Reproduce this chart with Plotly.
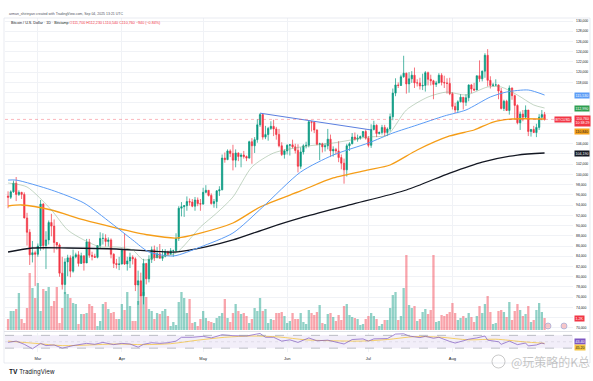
import pandas as pd
import plotly.graph_objects as go

# ---------------- data ----------------
start_date = "2025-02-18"
first_open = 95770

closes = [
    95540, 96600, 98300, 96100, 96500, 96100, 91500, 88700, 84300, 84700, 84400,
    86000, 94200, 86100, 87200, 90600, 89900, 86700, 86200, 80700, 78500,
    82900, 83700, 81100, 83900, 84300, 82600, 84100, 82700, 86800, 84200,
    84000, 83800, 86100, 87500, 87500, 86900, 87200, 84400, 82600, 82400,
    82500, 85200, 82500, 83100, 83800, 83500, 78400, 79200, 76300, 82600,
    79600, 83400, 85300, 83700, 84500, 83600, 84000, 84900, 84400, 85100,
    85100, 87500, 93400, 93700, 93900, 94700, 94600, 93800, 95000, 94300,
    94200, 96500, 96900, 95900, 94300, 94700, 96800, 97000, 103200, 102900,
    104600, 104100, 102800, 104200, 103500, 103800, 103500, 103200, 106400, 105600,
    106800, 109700, 111700, 107300, 107800, 109000, 109400, 108900, 107800, 105600,
    103900, 104600, 105700, 105800, 105400, 104700, 101600, 104400, 105600, 105700,
    110300, 110200, 108700, 105900, 106000, 105400, 105600, 106900, 104600, 104900,
    104600, 103300, 102200, 100900, 105600, 106000, 107300, 106900, 107100, 107400,
    108400, 107100, 105700, 108800, 109600, 108000, 108200, 109200, 108200, 108900,
    111300, 115900, 117500, 117400, 119100, 119800, 117700, 118700, 119400, 117900,
    117900, 117300, 117400, 119900, 118600, 118300, 117600, 117900, 119400, 118000,
    117900, 117800, 115800, 113300, 112600, 114200, 115100, 114100, 115000, 117500,
    116700, 116500, 119300, 118700, 120200, 123300, 118400, 117400, 117500, 117500,
    116300, 112900, 114300, 112500, 116900, 115400, 113500, 110100, 111800, 111200,
    112600, 108400, 108800, 108200, 109200, 111200, 111700, 110760,
]
highs = [
    96700, 96900, 98800, 99500, 96900, 96600, 96500, 92500, 89300, 87000, 85100,
    86500, 95000, 94400, 88900, 91000, 92300, 91200, 86800, 86500, 83900,
    83600, 84300, 84200, 85300, 84700, 85000, 84700, 84100, 87400, 87400,
    84900, 84500, 86100, 88700, 88500, 88300, 87700, 87500, 84600, 83500,
    83900, 85500, 88500, 83900, 84700, 84200, 83800, 81200, 80800, 83500,
    82700, 84200, 85900, 86100, 85800, 86400, 85400, 85400, 85100, 85600,
    85300, 88500, 93800, 94600, 94000, 95700, 95300, 95200, 95600, 95500,
    95200, 97400, 97900, 96900, 96300, 95200, 96900, 97700, 103900, 104300,
    104900, 104900, 105800, 104900, 104300, 104200, 104600, 103700, 106600, 107100,
    107300, 110800, 111980, 111800, 109500, 109300, 110400, 110700, 109300, 108900,
    106300, 104900, 105900, 105900, 106800, 106000, 105900, 105300, 105900, 106400,
    110600, 110400, 110400, 108800, 106200, 106200, 106100, 108900, 107800, 105500,
    105200, 106500, 103900, 103100, 106000, 106300, 108100, 108200, 107800, 107600,
    108500, 108800, 107500, 109800, 110500, 109800, 108400, 109700, 109700, 109200,
    111900, 116800, 118800, 118000, 119500, 123200, 119900, 120000, 120200, 120900,
    118600, 118900, 119700, 120200, 120100, 119500, 118500, 118300, 119800, 119800,
    119300, 118800, 118900, 116100, 114000, 114500, 115700, 115100, 115700, 117600,
    117700, 117900, 119300, 122300, 120300, 123700, 124500, 119200, 117900, 118600,
    117600, 116900, 114600, 114600, 117400, 117000, 115600, 113700, 112300, 112600,
    113500, 112600, 108900, 109500, 109900, 111800, 112600, 112230,
]
lows = [
    93400, 95200, 96400, 94800, 95800, 95200, 91400, 86100, 82300, 82800, 78200,
    83900, 85100, 85300, 81500, 86300, 87900, 84700, 85300, 80000, 77500,
    76600, 80100, 79900, 80800, 83600, 82000, 82500, 81200, 82700, 83700,
    83200, 83700, 83600, 85600, 86300, 85900, 85900, 83600, 81700, 81600,
    81300, 82400, 82300, 81200, 81700, 82400, 77200, 74500, 76200, 74600,
    78500, 78900, 82700, 83100, 83700, 83600, 83100, 83800, 84100, 84400,
    83900, 85100, 87000, 91800, 91700, 92900, 93900, 93600, 92900, 93800,
    92900, 94100, 96300, 95700, 94100, 93500, 93400, 95800, 96900, 102300,
    102800, 103400, 100800, 101400, 102600, 101400, 103100, 102600, 103100, 102100,
    104200, 106200, 109300, 106800, 106900, 106600, 108700, 107500, 106800, 105300,
    103600, 103100, 103900, 103700, 105100, 104100, 100400, 101100, 103900, 105100,
    105300, 108400, 108100, 105700, 102800, 104300, 104500, 104900, 103400, 103500,
    103900, 102400, 101000, 98200, 99600, 104600, 105900, 106600, 106400, 106800,
    107200, 106800, 105300, 105200, 108600, 107300, 107800, 107800, 107500, 107500,
    108400, 110600, 115300, 116900, 117300, 118900, 115800, 116000, 117900, 116900,
    117200, 116600, 116500, 116200, 117400, 117400, 114700, 117100, 117800, 117400,
    116900, 115800, 115500, 112700, 112000, 112000, 114100, 112700, 113400, 114300,
    115900, 116300, 116500, 118100, 118200, 118900, 117200, 116800, 117200, 117300,
    114700, 112700, 112400, 112400, 111700, 114600, 110700, 109800, 108700, 110400,
    110900, 107500, 107400, 108100, 107300, 108700, 110600, 110540,
]
volume = [
    1100, 1900, 1900, 2100, 3700, 1100, 700, 2200, 5700, 4200, 3200,
    4700, 1900, 4100, 3900, 4300, 2400, 2900, 4300, 700, 2200,
    3800, 3600, 3200, 2700, 2600, 600, 1600, 1600, 1700, 2600,
    2400, 1700, 400, 900, 2600, 2800, 2100, 1700, 1800, 1100,
    1100, 2600, 2000, 3800, 2400, 900, 900, 2900, 3500, 3800,
    3300, 2100, 1900, 1100, 1700, 1600, 1900, 2100, 1400, 400,
    800, 500, 2800, 3800, 3200, 1700, 3100, 700, 800, 400,
    1100, 1900, 1200, 900, 800, 700, 1200, 1400, 1700, 3100,
    1200, 800, 1700, 2600, 1900, 1600, 1700, 1400, 700, 1100,
    2200, 1900, 3200, 1900, 2100, 700, 1100, 1000, 1700, 1700,
    1800, 1400, 700, 900, 1700, 1100, 1100, 1700, 800, 600,
    2000, 1700, 1500, 1800, 2500, 700, 600, 1600, 1700, 1300,
    900, 1500, 1000, 2400, 2600, 1500, 1300, 1200, 1100, 500,
    600, 1100, 1400, 1700, 1400, 1100, 400, 600, 1000, 1000,
    2200, 3500, 3800, 1000, 1400, 4200, 7500, 2500, 2200, 2400,
    900, 1100, 1800, 2100, 1600, 2000, 7500, 800, 900, 1500,
    1400, 1600, 1800, 2700, 1700, 1000, 1200, 1400, 1200, 1700,
    1300, 800, 1400, 2400, 1700, 2600, 3400, 1800, 600, 700,
    1900, 2000, 1800, 1300, 2800, 1000, 1900, 2600, 2000, 1400,
    1600, 2400, 800, 1000, 2000, 2700, 1800, 1200,
]

ma20_dates = ["2025-02-18", "2025-02-25", "2025-03-06", "2025-03-12", "2025-03-18", "2025-03-24",
              "2025-03-30", "2025-04-05", "2025-04-09", "2025-04-14", "2025-04-21", "2025-04-30",
              "2025-05-06", "2025-05-12", "2025-05-19", "2025-05-27", "2025-06-06", "2025-06-18",
              "2025-07-01", "2025-07-08", "2025-07-15", "2025-07-23", "2025-07-30", "2025-08-06",
              "2025-08-14", "2025-08-19", "2025-08-25", "2025-08-31", "2025-09-04"]
ma20_vals = [98330, 97550, 93050, 89140, 87190, 85820, 85820, 85230, 83280, 83860, 84640, 89730,
             92460, 95590, 101460, 104190, 105370, 106150, 107320, 107710, 112600, 115140, 116120,
             115530, 117100, 117100, 115530, 113580, 112990]

ma50_dates = ["2025-02-18", "2025-02-21", "2025-03-06", "2025-03-18", "2025-03-28", "2025-04-05",
              "2025-04-11", "2025-04-20", "2025-04-30", "2025-05-12", "2025-05-23", "2025-06-06",
              "2025-06-18", "2025-07-01", "2025-07-10", "2025-07-19", "2025-07-29", "2025-08-06",
              "2025-08-15", "2025-08-21", "2025-08-29", "2025-09-04"]
ma50_vals = [98900, 98900, 96960, 94420, 90510, 87190, 84840, 84060, 85820, 88550, 93640, 100480,
             103800, 106150, 108100, 109670, 111430, 112600, 115140, 116120, 116510, 115530]

ma100_dates = ["2025-02-18", "2025-02-23", "2025-03-06", "2025-03-18", "2025-03-30", "2025-04-11",
               "2025-04-21", "2025-04-30", "2025-05-12", "2025-05-22", "2025-06-06", "2025-06-18",
               "2025-07-01", "2025-07-09", "2025-07-19", "2025-07-31", "2025-08-09", "2025-08-16",
               "2025-08-23", "2025-09-04"]
ma100_vals = [93830, 94030, 93050, 91100, 89530, 88160, 87570, 88550, 90510, 93640, 96770, 99310,
              100880, 101850, 104780, 107520, 108690, 110250, 110840, 110840]

ma200_dates = ["2025-02-18", "2025-02-27", "2025-03-12", "2025-03-30", "2025-04-11", "2025-04-21",
               "2025-05-02", "2025-05-12", "2025-05-25", "2025-06-06", "2025-06-24", "2025-07-15",
               "2025-07-31", "2025-08-12", "2025-08-25", "2025-09-04"]
ma200_vals = [84840, 85620, 85620, 85430, 85040, 84840, 85820, 87190, 89530, 91490, 94030, 96960,
              100280, 102430, 103800, 104190]

trend_dates = ["2025-05-22", "2025-07-02"]
trend_prices = [111980, 108700]

rsi_dates = ["2025-02-18", "2025-02-21", "2025-02-24", "2025-02-27", "2025-03-02", "2025-03-04",
             "2025-03-07", "2025-03-10", "2025-03-14", "2025-03-19", "2025-03-22", "2025-03-25",
             "2025-03-29", "2025-04-01", "2025-04-04", "2025-04-07", "2025-04-09", "2025-04-12",
             "2025-04-15", "2025-04-18", "2025-04-21", "2025-04-23", "2025-04-27", "2025-05-01",
             "2025-05-04", "2025-05-08", "2025-05-12", "2025-05-17", "2025-05-22", "2025-05-24",
             "2025-05-27", "2025-05-30", "2025-06-02", "2025-06-05", "2025-06-09", "2025-06-12",
             "2025-06-16", "2025-06-19", "2025-06-22", "2025-06-25", "2025-06-29", "2025-07-01",
             "2025-07-03", "2025-07-08", "2025-07-11", "2025-07-14", "2025-07-16", "2025-07-20",
             "2025-07-22", "2025-07-25", "2025-07-27", "2025-07-31", "2025-08-02", "2025-08-05",
             "2025-08-07", "2025-08-10", "2025-08-13", "2025-08-14", "2025-08-18", "2025-08-19",
             "2025-08-22", "2025-08-25", "2025-08-28", "2025-08-29", "2025-09-01", "2025-09-03",
             "2025-09-04"]
rsi_vals = [48, 52, 42, 28, 45, 38, 40, 30, 38, 45, 42, 48, 41, 45, 43, 33, 42, 47, 45, 47, 52, 64,
            64, 67, 62, 72, 69, 68, 76, 64, 64, 52, 56, 48, 62, 53, 55, 49, 43, 57, 59, 52, 59, 60,
            74, 75, 68, 63, 67, 61, 64, 51, 46, 53, 58, 62, 68, 55, 50, 42, 52, 41, 46, 37, 40, 46,
            43.4]

rsi_ma_dates = ["2025-02-18", "2025-02-28", "2025-03-10", "2025-03-20", "2025-03-30", "2025-04-09",
                "2025-04-19", "2025-04-29", "2025-05-09", "2025-05-19", "2025-05-29", "2025-06-08",
                "2025-06-18", "2025-06-28", "2025-07-08", "2025-07-18", "2025-07-28", "2025-08-07",
                "2025-08-17", "2025-08-27", "2025-09-04"]
rsi_ma_vals = [52, 45, 38, 40, 43, 41, 44, 55, 64, 68, 65, 56, 53, 52, 57, 66, 64, 56, 58, 50, 45.2]

month_ticks = ["2025-03-01", "2025-04-01", "2025-05-01", "2025-06-01", "2025-07-01", "2025-08-01"]
month_labels = ["Mar", "Apr", "May", "Jun", "Jul", "Aug"]
price_ticks = list(range(70000, 130001, 2000))

header_line = "arman_shirinyan created with TradingView.com, Sep 04, 2025 13:21 UTC"
symbol_line = "Bitcoin / U.S. Dollar · 1D · Bitstamp"
ohlc_line = "O111,700 H112,230 L110,540 C110,760 −940 (−0.84%)"
countdown = "10:38:29"

# ---------------- styling ----------------
UP = "#089981"
DN = "#f23645"
UP_VOL = "rgba(8,153,129,0.45)"
DN_VOL = "rgba(242,54,69,0.45)"
GRID = "#f0f2f6"
TXT = "#131722"
FONT = "Liberation Sans, Arial, sans-serif"

PL, PR, PT, PB = 5, 573, 18, 352          # plot area in pixels
MAIN_BOTTOM = 330
Y_RANGE = [69590, 130587]
VOL_TOP = max(volume) * 4.16


def px_x(x):
    return (x - PL) / (PR - PL)


def px_y(y):
    return (PB - y) / (PB - PT)


def price_to_px(v):
    return PT + (Y_RANGE[1] - v) / (Y_RANGE[1] - Y_RANGE[0]) * (MAIN_BOTTOM - PT)


dates = pd.date_range(start_date, periods=len(closes), freq="D")
opens = [first_open] + closes[:-1]
is_up = [c >= o for o, c in zip(opens, closes)]
x_range = ["2025-02-16 21:00", "2025-09-14 12:00"]

fig = go.Figure()

fig.add_trace(go.Bar(
    x=dates, y=volume, xaxis="x", yaxis="y3",
    marker=dict(color=[UP_VOL if u else DN_VOL for u in is_up], line_width=0),
    hoverinfo="skip",
))

for dts, vals, color, width in [
    (ma200_dates, ma200_vals, "#131722", 1.3),
    (ma100_dates, ma100_vals, "#f59d17", 1.3),
    (ma50_dates, ma50_vals, "#5b9cf6", 1.0),
    (ma20_dates, ma20_vals, "rgba(120,160,120,0.55)", 0.8),
]:
    fig.add_trace(go.Scatter(
        x=dts, y=vals, mode="lines", xaxis="x", yaxis="y",
        line=dict(color=color, width=width, shape="spline", smoothing=0.7),
        hoverinfo="skip",
    ))

fig.add_trace(go.Candlestick(
    x=dates, open=opens, high=highs, low=lows, close=closes, xaxis="x", yaxis="y",
    increasing=dict(line=dict(color=UP, width=0.7), fillcolor=UP),
    decreasing=dict(line=dict(color=DN, width=0.7), fillcolor=DN),
    whiskerwidth=0, hoverinfo="skip",
))

fig.add_trace(go.Scatter(
    x=trend_dates, y=trend_prices, mode="lines", xaxis="x", yaxis="y",
    line=dict(color="#5b7fe0", width=1), hoverinfo="skip",
))

fig.add_trace(go.Scatter(
    x=rsi_ma_dates, y=rsi_ma_vals, mode="lines", xaxis="x2", yaxis="y2",
    line=dict(color="#f5c542", width=0.8, shape="spline", smoothing=0.8), hoverinfo="skip",
))
fig.add_trace(go.Scatter(
    x=rsi_dates, y=rsi_vals, mode="lines", xaxis="x2", yaxis="y2",
    line=dict(color="#7e57c2", width=0.7), hoverinfo="skip",
))

shapes = [
    # RSI band
    dict(type="rect", xref="x2 domain", yref="y2", x0=0, x1=1, y0=30, y1=70,
         fillcolor="rgba(126,87,194,0.10)", line_width=0, layer="below"),
    dict(type="line", xref="x2 domain", yref="y2", x0=0, x1=1, y0=70, y1=70,
         line=dict(color="#9598a1", width=0.6, dash="dash")),
    dict(type="line", xref="x2 domain", yref="y2", x0=0, x1=1, y0=30, y1=30,
         line=dict(color="#9598a1", width=0.6, dash="dash")),
    dict(type="line", xref="x2 domain", yref="y2", x0=0, x1=1, y0=50, y1=50,
         line=dict(color="rgba(149,152,161,0.4)", width=0.5, dash="dot")),
    # last price dotted line
    dict(type="line", xref="x domain", yref="y", x0=0, x1=1, y0=closes[-1], y1=closes[-1],
         line=dict(color="rgba(242,54,69,0.6)", width=0.6, dash="dot")),
    # pane separator and outer frame
    dict(type="line", xref="paper", yref="paper", x0=px_x(4), x1=px_x(590),
         y0=px_y(331.5), y1=px_y(331.5), line=dict(color="#d1d4dc", width=0.7)),
    dict(type="rect", xref="paper", yref="paper", x0=px_x(4), x1=px_x(590),
         y0=px_y(363), y1=px_y(18), line=dict(color="#e0e3eb", width=0.7)),
    # economic event icons
    dict(type="circle", xref="paper", yref="paper", x0=px_x(545), x1=px_x(551),
         y0=px_y(329), y1=px_y(323), fillcolor="#f6c6c9", line=dict(color="#8fa3d6", width=0.6)),
    dict(type="circle", xref="paper", yref="paper", x0=px_x(561), x1=px_x(567),
         y0=px_y(329), y1=px_y(323), fillcolor="#f6c6c9", line=dict(color="#8fa3d6", width=0.6)),
    # watermark icon
    dict(type="circle", xref="paper", yref="paper", x0=px_x(492), x1=px_x(505),
         y0=px_y(368), y1=px_y(355), line=dict(color="rgba(150,150,150,0.5)", width=1)),
]

ann = []
box_px = []   # pixel centres of the coloured scale labels, used to hide colliding ticks


def label(y, text, bg, fg="white", yref="y", yshift=0, xanchor="left", x=1, xshift=1,
          half_height=3.0):
    ann.append(dict(xref="paper", yref=yref, x=x, y=y, xanchor=xanchor, yanchor="middle",
                    text=text, showarrow=False, bgcolor=bg, borderpad=0.6, yshift=yshift,
                    xshift=xshift, font=dict(size=3.6, color=fg, family=FONT)))
    if yref == "y" and xanchor == "left":
        box_px.append((price_to_px(y) - yshift, half_height))


label(ma50_vals[-1], f"{ma50_vals[-1]:,}", "#5b9cf6")
label(ma20_vals[-1], f"{ma20_vals[-1]:,}", "#2e9e4f")
label(closes[-1], f"{closes[-1]:,}<br>{countdown}", DN, yshift=-2, half_height=5.5)
label(ma100_vals[-1], f"{ma100_vals[-1]:,}", "#f7a21b", fg=TXT, yshift=-12)
label(ma200_vals[-1], f"{ma200_vals[-1]:,}", "#131722")
label(closes[-1], "BTCUSD", DN, xanchor="right", xshift=-1)
vol_px = MAIN_BOTTOM - volume[-1] / VOL_TOP * (MAIN_BOTTOM - PT)
ann.append(dict(xref="paper", yref="y3", x=1, y=volume[-1], xanchor="left", yanchor="middle",
                text=f"{volume[-1] / 1000:.1f}K", showarrow=False, bgcolor=DN, borderpad=0.6,
                xshift=1, font=dict(size=3.6, color="white", family=FONT)))
box_px.append((vol_px, 3.0))
label(rsi_vals[-1], f"{rsi_vals[-1]:.2f}", "#7e57c2", yref="y2", yshift=2)
label(rsi_ma_vals[-1], f"{rsi_ma_vals[-1]:.2f}", "#f5c542", fg=TXT, yref="y2", yshift=-4)

tick_text = []
for v in price_ticks:
    p = price_to_px(v)
    hidden = any(abs(p - c) < h + 2.2 for c, h in box_px)
    tick_text.append("" if hidden else f"{v:,}")

ann.append(dict(xref="paper", yref="paper", x=px_x(7), y=px_y(14), xanchor="left",
                yanchor="middle", showarrow=False, text=header_line,
                font=dict(size=3.5, color="#50535e", family=FONT)))
ann.append(dict(xref="paper", yref="paper", x=px_x(9), y=px_y(23), xanchor="left",
                yanchor="middle", showarrow=False,
                text=f"{symbol_line} <span style='color:{DN}'>{ohlc_line}</span>",
                font=dict(size=3.7, color=TXT, family=FONT)))
ann.append(dict(xref="paper", yref="paper", x=px_x(7), y=px_y(372), xanchor="left",
                yanchor="middle", showarrow=False, text="<b>TV</b> TradingView",
                font=dict(size=6, color=TXT, family="Inter, Liberation Sans, sans-serif")))
ann.append(dict(xref="paper", yref="paper", x=px_x(509), y=px_y(361.5), xanchor="left",
                yanchor="middle", showarrow=False, text="@玩策略的K总",
                font=dict(size=12, color="rgba(140,140,140,0.5)", family="Noto Sans CJK SC")))

fig.update_layout(
    width=593, height=381,
    margin=dict(l=PL, r=593 - PR, t=PT, b=381 - PB),
    paper_bgcolor="white", plot_bgcolor="white", showlegend=False,
    font=dict(family=FONT, size=4, color=TXT),
    bargap=0.15,
    shapes=shapes, annotations=ann,
    xaxis=dict(domain=[0, 1], range=x_range, type="date", anchor="y",
               showticklabels=False, tickvals=month_ticks, showgrid=True, gridcolor=GRID,
               gridwidth=0.6, zeroline=False, showline=False, ticks="",
               rangeslider=dict(visible=False)),
    xaxis2=dict(domain=[0, 1], range=x_range, type="date", anchor="y2", matches="x",
                tickvals=month_ticks, ticktext=month_labels, showgrid=True, gridcolor=GRID,
                gridwidth=0.6, ticks="", showline=False, zeroline=False,
                tickfont=dict(size=4, color=TXT), ticklabelstandoff=3),
    yaxis=dict(domain=[px_y(MAIN_BOTTOM), 1], range=Y_RANGE, side="right", anchor="x",
               tickvals=price_ticks, ticktext=tick_text,
               tickfont=dict(size=3.4, color=TXT), showgrid=True, gridcolor=GRID,
               gridwidth=0.6, zeroline=False, ticks="", showline=False, ticklabelstandoff=2),
    yaxis3=dict(overlaying="y", range=[0, VOL_TOP], visible=False, anchor="x"),
    yaxis2=dict(domain=[0, px_y(333)], range=[18, 77.4], side="right", anchor="x2",
                showticklabels=False, showgrid=False, zeroline=False, ticks=""),
)

fig.write_html("out.html", config={"displayModeBar": False},
               post_script="document.body.style.margin='0';document.body.style.overflow='hidden';")
